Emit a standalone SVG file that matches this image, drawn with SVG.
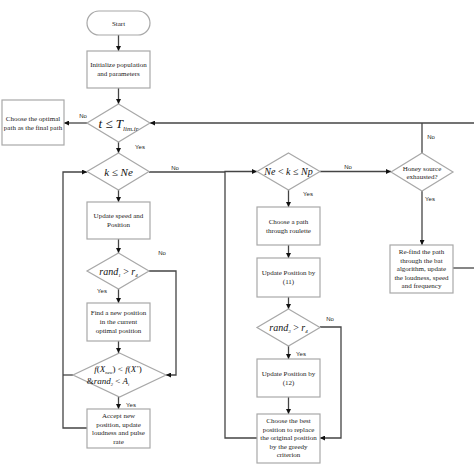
<svg xmlns="http://www.w3.org/2000/svg" width="474" height="474" viewBox="0 0 474 474">
<defs>
<marker id="ah" viewBox="0 0 10 10" refX="10" refY="5" markerWidth="5" markerHeight="5" orient="auto" markerUnits="userSpaceOnUse">
<path d="M0,0 L10,5 L0,10 z" fill="#111"/>
</marker>
<style>
.box{fill:#fff;stroke:#a8a8a8;stroke-width:1.2}
.t{font-family:"Liberation Serif","Times New Roman",serif;font-size:7px;fill:#222;text-anchor:middle}
.m{font-family:"Liberation Serif","Times New Roman",serif;font-style:italic;fill:#111;text-anchor:middle}
.lb{font-family:"Liberation Sans",Arial,sans-serif;font-size:6px;fill:#222;text-anchor:middle}
.c{fill:none;stroke:#444;stroke-width:1.3}
.a{marker-end:url(#ah)}
</style>
</defs>
<rect width="474" height="474" fill="#fff"/>

<g id="connectors">
<path class="c a" d="M118.5,35 V51"/>
<path class="c a" d="M118.5,88 V104"/>
<path class="c a" d="M87,123 H64"/>
<path class="c a" d="M474,123 H150"/>
<path class="c a" d="M118.5,142 V153"/>
<path class="c a" d="M118.5,190 V202"/>
<path class="c a" d="M118.5,239 V253"/>
<path class="c a" d="M118.5,289 V303"/>
<path class="c a" d="M149,271 H176 V375 H166"/>
<path class="c a" d="M118.5,341 V353"/>
<path class="c a" d="M118.5,397 V409"/>
<path class="c a" d="M87,428 H63 V172 H87"/>
<path class="c" d="M73,375 H63"/>
<path class="c" d="M149,172 H225"/>
<path class="c a" d="M257,438 H225 V171.5 H257"/>
<path class="c a" d="M320,171.5 H391"/>
<path class="c a" d="M288.5,190 V207"/>
<path class="c a" d="M288.5,245 V258"/>
<path class="c a" d="M288.5,297 V309"/>
<path class="c a" d="M288.5,346 V359"/>
<path class="c a" d="M288.5,397 V414"/>
<path class="c a" d="M320,327 H341 V438 H320"/>
<path class="c" d="M422,153 V123"/>
<path class="c a" d="M422,191 V245"/>
<path class="c" d="M453,268 H474"/>
</g>

<g id="labels">
<text class="lb" x="83" y="118">No</text>
<text class="lb" x="140" y="149">Yes</text>
<text class="lb" x="175" y="170">No</text>
<text class="lb" x="162" y="255">No</text>
<text class="lb" x="102" y="293">Yes</text>
<text class="lb" x="131" y="407">Yes</text>
<text class="lb" x="348" y="169">No</text>
<text class="lb" x="308" y="196">Yes</text>
<text class="lb" x="431" y="139">No</text>
<text class="lb" x="430" y="201">Yes</text>
<text class="lb" x="330" y="321">No</text>
<text class="lb" x="301" y="356">Yes</text>
</g>

<g id="start">
<rect class="box" x="87" y="11" width="63" height="24" rx="12"/>
<text class="t" x="118.5" y="25.5">Start</text>
</g>

<g id="init">
<rect class="box" x="87" y="51" width="63" height="37"/>
<text class="t" x="118.5" y="67">Initialize population</text>
<text class="t" x="118.5" y="76">and parameters</text>
</g>

<g id="cond-t">
<polygon class="box" points="118.5,104 150,123 118.5,142 87,123"/>
<text class="m" x="118.5" y="128" font-size="13"><tspan>t</tspan><tspan font-style="normal"> ≤ </tspan><tspan>T</tspan><tspan font-size="7" dy="2.5">lim.ir</tspan></text>
</g>

<g id="final">
<rect class="box" x="2" y="100" width="62" height="45"/>
<text class="t" x="33" y="121">Choose the optimal</text>
<text class="t" x="33" y="130">path as the final path</text>
</g>

<g id="cond-k">
<polygon class="box" points="118.5,153 149,171.5 118.5,190 87,171.5"/>
<text class="m" x="118.5" y="175.5" font-size="11">k <tspan font-style="normal">≤</tspan> Ne</text>
</g>

<g id="update-speed">
<rect class="box" x="87" y="202" width="63" height="37"/>
<text class="t" x="118.5" y="218">Update speed and</text>
<text class="t" x="118.5" y="227">Position</text>
</g>

<g id="cond-rand1">
<polygon class="box" points="118.5,253 149,271 118.5,289 87,271"/>
<text class="m" x="118.5" y="275" font-size="10">rand<tspan font-size="5" dy="2">1</tspan><tspan dy="-2" font-style="normal"> &gt; </tspan>r<tspan font-size="5" dy="2">4</tspan></text>
</g>

<g id="find">
<rect class="box" x="87" y="303" width="63" height="38"/>
<text class="t" x="118.5" y="315">Find a new position</text>
<text class="t" x="118.5" y="324">in the current</text>
<text class="t" x="118.5" y="333">optimal position</text>
</g>

<g id="cond-f">
<polygon class="box" points="119.5,353 166,375 119.5,397 73,375"/>
<text class="m" x="118" y="372" font-size="9">f<tspan font-style="normal">(</tspan>X<tspan font-size="4.5" dy="1.5">new</tspan><tspan dy="-1.5" font-style="normal">) &lt; </tspan>f<tspan font-style="normal">(</tspan>X<tspan font-size="5" dy="-3">*</tspan><tspan dy="3" font-style="normal">)</tspan></text>
<text class="m" x="108" y="384" font-size="9"><tspan font-style="normal">&amp;</tspan>rand<tspan font-size="4.5" dy="1.5">2</tspan><tspan dy="-1.5" font-style="normal"> &lt; </tspan>A<tspan font-size="4.5" dy="1.5">i</tspan></text>
</g>

<g id="accept">
<rect class="box" x="87" y="409" width="63" height="39"/>
<text class="t" x="118.5" y="418">Accept new</text>
<text class="t" x="118.5" y="426.5">position, update</text>
<text class="t" x="118.5" y="435">loudness and pulse</text>
<text class="t" x="118.5" y="443.5">rate</text>
</g>

<g id="cond-ne">
<polygon class="box" points="288.5,153 320,171.5 288.5,190 257,171.5"/>
<text class="m" x="288.5" y="175" font-size="10">Ne <tspan font-style="normal">&lt;</tspan> k <tspan font-style="normal">≤</tspan> Np</text>
</g>

<g id="roulette">
<rect class="box" x="257" y="207" width="63" height="38"/>
<text class="t" x="288.5" y="224">Choose a path</text>
<text class="t" x="288.5" y="233">through roulette</text>
</g>

<g id="upd11">
<rect class="box" x="257" y="258" width="63" height="39"/>
<text class="t" x="288.5" y="275">Update Position by</text>
<text class="t" x="288.5" y="284">(11)</text>
</g>

<g id="cond-rand3">
<polygon class="box" points="288.5,309 320,327.5 288.5,346 257,327.5"/>
<text class="m" x="288.5" y="331" font-size="10">rand<tspan font-size="5" dy="2">3</tspan><tspan dy="-2" font-style="normal"> &gt; </tspan>r<tspan font-size="5" dy="2">4</tspan></text>
</g>

<g id="upd12">
<rect class="box" x="257" y="359" width="63" height="38"/>
<text class="t" x="288.5" y="376">Update Position by</text>
<text class="t" x="288.5" y="385">(12)</text>
</g>

<g id="greedy">
<rect class="box" x="257" y="414" width="63" height="49"/>
<text class="t" x="288.5" y="423">Choose the best</text>
<text class="t" x="288.5" y="431.5">position to replace</text>
<text class="t" x="288.5" y="440">the original position</text>
<text class="t" x="288.5" y="448.5">by the greedy</text>
<text class="t" x="288.5" y="457">criterion</text>
</g>

<g id="cond-honey">
<polygon class="box" points="422,153 453,172 422,191 391,172"/>
<text class="t" x="422" y="171">Honey source</text>
<text class="t" x="422" y="179">exhausted?</text>
</g>

<g id="refind">
<rect class="box" x="390" y="245" width="63" height="48"/>
<text class="t" x="421.5" y="254">Re-find the path</text>
<text class="t" x="421.5" y="262.5">through the bat</text>
<text class="t" x="421.5" y="271">algorithm, update</text>
<text class="t" x="421.5" y="279.5">the loudness, speed</text>
<text class="t" x="421.5" y="288">and frequency</text>
</g>
</svg>
